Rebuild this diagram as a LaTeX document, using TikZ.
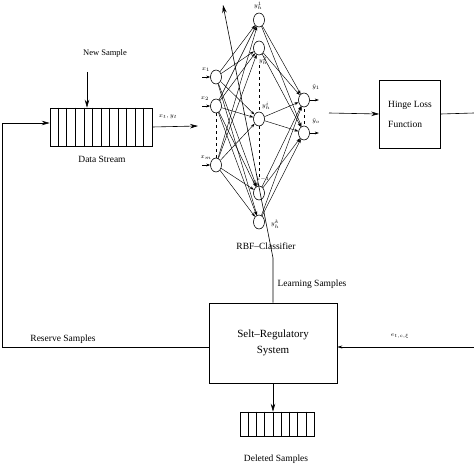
\documentclass[tikz,border=0pt]{standalone}
\usepackage{amsmath}
\usepackage{fontspec}
\setmainfont{Liberation Serif}
\usepackage{tikz}
\usetikzlibrary{positioning, shapes, arrows.meta, calc}

\begin{document}
\begin{tikzpicture}[x=1pt, y=-1pt, line width=0.6pt, font=\fontsize{9.5}{11}\selectfont,
  neuron/.style={ellipse, draw, minimum width=11pt, minimum height=14pt, inner sep=0pt},
  link/.style={-{Stealth[length=4pt, width=2.8pt]}, line width=0.45pt},
  bigarrow/.style={-{Stealth[length=8pt, width=4.5pt]}},
  box/.style={rectangle, draw},
  tag/.style={font=\fontsize{6}{7}\selectfont, inner sep=0.5pt}]
\useasboundingbox (0,0) rectangle (474,465);

% Data stream
\node[box, minimum width=102pt, minimum height=38pt] (stream) at (101,127) {};
\foreach \c in {1,...,11}
\draw ($(stream.north west)!\c/12!(stream.north east)$) -- ($(stream.south west)!\c/12!(stream.south east)$);
\node[font=\fontsize{8.5}{10}\selectfont] (newlabel) at (105,53) {New Sample};
\coordinate (newtop) at (87,72);
\draw[bigarrow] (newtop) -- (newtop |- stream.north);
\node (streamlabel) at (102,159) {Data Stream};
\coordinate (netin) at (198,126);
\draw[bigarrow] (stream.east) -- (netin);
\node[tag] (pairlabel) at (168,117) {$x_t,y_t$};

% Nodes
\foreach \i/\y in {1/77,2/106,m/165}
\node[neuron] (input\i) at (216,\y) {};
\foreach \h/\y in {1/20,2/48,i/119,k1/193,k/222}
\node[neuron] (hidden\h) at (259,\y) {};
\foreach \o/\y in {1/100,o/133}
\node[neuron] (output\o) at (304,\y) {};

% Node labels
\node[tag] at (206,70) {$x_1$};
\node[tag] at (205,99) {$x_2$};
\node[tag] at (206,158) {$x_m$};
\node[tag] at (258,6) {$y_h^1$};
\node[tag] at (263,61) {$y_h^2$};
\node[tag] at (266,106) {$y_h^i$};
\node[tag] at (261,182) {$y_h^{k-1}$};
\node[tag] at (275,224) {$y_h^k$};
\node[tag] at (316,87) {$\hat{y}_1$};
\node[tag] at (316,121) {$\hat{y}_o$};

% Arrows
\foreach \i in {1,2,m}
\foreach \h in {1,2,i,k1,k}
\draw[link] (input\i) -- (hidden\h);
\foreach \h in {1,2,i,k1,k}
\foreach \o in {1,o}
\draw[link] (hidden\h) -- (output\o);
\foreach \i in {1,2,m} {
  \coordinate (feed\i) at ($(input\i.west)+(-8,0)$);
  \draw[link] (feed\i) -- (input\i.west);
}
\foreach \o in {1,o} {
  \coordinate (emit\o) at ($(output\o.east)+(9,0)$);
  \draw[link] (output\o.east) -- (emit\o);
}
\draw[dashed, line width=0.45pt] (input2) -- (inputm);
\draw[dashed, line width=0.45pt, shorten <=10pt] (hidden2) -- (hiddeni);
\draw[dashed, line width=0.45pt, shorten >=6pt] (hiddeni) -- (hiddenk1);
\draw[dashed, line width=0.45pt, shorten <=2pt, shorten >=2pt] (output1) -- (outputo);
\node (rbflabel) at (266,246) {RBF--Classifier};

% Hinge loss
\node[box, minimum width=61pt, minimum height=68pt, align=left, font=\fontsize{9.5}{20}\selectfont] (hinge) at (410,114) {Hinge Loss\\Function};
\coordinate (netout) at (329,113);
\draw[bigarrow] (netout) -- (hinge.west);
\coordinate (hingeout) at (474,113);
\draw (hinge.east) -- (hingeout);

% Self-regulatory system
\node[box, minimum width=128pt, minimum height=80pt, align=center, font=\fontsize{11}{16}\selectfont] (srs) at (273,343) {Selt--Regulatory\\System};
\coordinate (bend) at (273,258);
\coordinate (feedtip) at (223,5);
\draw[bigarrow] (srs.north) -- (bend) -- (feedtip);
\node (learnlabel) at (312,284) {Learning Samples};
\coordinate (loopcorner) at (2,347);
\draw[bigarrow] ([yshift=-4pt]srs.west) -- (loopcorner) |- ([yshift=4pt]stream.west);
\node (reservelabel) at (63,339) {Reserve Samples};
\coordinate (errin) at (474,347);
\draw[-{Stealth[length=5pt, width=3pt]}] (errin) -- ([yshift=-4pt]srs.east);
\node[tag] (errlabel) at (400,336) {$e_{t,c,\xi}$};

% Deleted samples
\node[box, minimum width=74pt, minimum height=24pt] (deleted) at (277,424) {};
\foreach \c in {1,...,8}
\draw ($(deleted.north west)!\c/9!(deleted.north east)$) -- ($(deleted.south west)!\c/9!(deleted.south east)$);
\draw[bigarrow] (srs.south) -- (srs.south |- deleted.north);
\node (deletedlabel) at (276,459) {Deleted Samples};
\end{tikzpicture}
\end{document}
